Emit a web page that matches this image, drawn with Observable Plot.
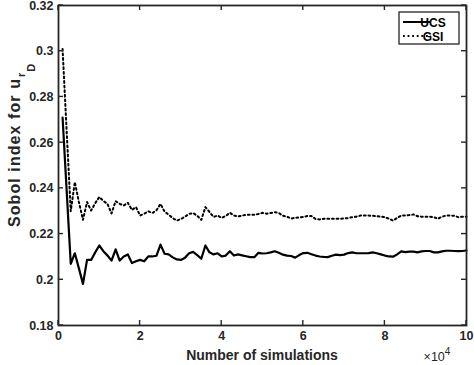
<!DOCTYPE html>
<html>
<head>
<meta charset="utf-8">
<script src="https://cdn.jsdelivr.net/npm/d3@7"></script>
<script src="https://cdn.jsdelivr.net/npm/@observablehq/plot@0.6"></script>
<style>
  html, body { margin: 0; padding: 0; background: #fff; }
  #chart { position: relative; width: 474px; height: 365px; overflow: hidden; }
  svg { font-family: "Liberation Sans", Arial, sans-serif; }
</style>
</head>
<body>
<div id="chart"></div>
<script>
// Number of simulations (in units of 10^4)
const simulations = [
  0.1,0.2,0.3,0.4,0.5,0.6,0.7,0.8,0.9,1.0,
  1.1,1.2,1.3,1.4,1.5,1.6,1.7,1.8,1.9,2.0,
  2.1,2.2,2.3,2.4,2.5,2.6,2.7,2.8,2.9,3.0,
  3.1,3.2,3.3,3.4,3.5,3.6,3.7,3.8,3.9,4.0,
  4.1,4.2,4.3,4.4,4.5,4.6,4.7,4.8,4.9,5.0,
  5.1,5.2,5.3,5.4,5.5,5.6,5.7,5.8,5.9,6.0,
  6.1,6.2,6.3,6.4,6.5,6.6,6.7,6.8,6.9,7.0,
  7.1,7.2,7.3,7.4,7.5,7.6,7.7,7.8,7.9,8.0,
  8.1,8.2,8.3,8.4,8.5,8.6,8.7,8.8,8.9,9.0,
  9.1,9.2,9.3,9.4,9.5,9.6,9.7,9.8,9.9,10.0
];
const ucs = [
  0.271,0.239,0.207,0.2116,0.205,0.1982,0.2087,0.2087,0.212,0.215,
  0.2125,0.2106,0.2084,0.2133,0.2084,0.2102,0.2111,0.2073,0.2081,0.2087,
  0.2081,0.2102,0.2102,0.2105,0.2154,0.2114,0.2111,0.2098,0.2089,0.2087,
  0.2096,0.2116,0.2122,0.2108,0.2092,0.215,0.212,0.2111,0.2116,0.2102,
  0.2106,0.2125,0.2106,0.2111,0.2107,0.2103,0.2099,0.2099,0.2118,0.2115,
  0.2116,0.212,0.2125,0.2118,0.211,0.2106,0.2104,0.2097,0.2108,0.2117,
  0.2118,0.2112,0.2106,0.2102,0.21,0.2099,0.2105,0.211,0.2108,0.211,
  0.2117,0.212,0.2116,0.2116,0.2116,0.2117,0.212,0.2116,0.2111,0.2106,
  0.2102,0.2101,0.2111,0.2124,0.2121,0.2123,0.2123,0.212,0.2124,0.2126,
  0.2126,0.212,0.212,0.2124,0.2127,0.2127,0.2126,0.2125,0.2126,0.2128
];
const gsi = [
  0.301,0.265,0.23,0.2427,0.234,0.2262,0.234,0.2303,0.2335,0.2362,
  0.2345,0.2332,0.229,0.2344,0.2332,0.2325,0.2337,0.2306,0.2318,0.2281,
  0.2289,0.23,0.2292,0.2304,0.2332,0.2298,0.2285,0.227,0.2259,0.2266,
  0.2276,0.2288,0.2292,0.228,0.2262,0.2318,0.2297,0.2275,0.2281,0.2271,
  0.2279,0.2293,0.2281,0.2277,0.2281,0.2284,0.2284,0.2284,0.2288,0.2293,
  0.2289,0.2292,0.2296,0.2292,0.228,0.2276,0.2268,0.2271,0.2273,0.2275,
  0.2279,0.2279,0.2266,0.2264,0.2267,0.2267,0.2267,0.2267,0.2267,0.2268,
  0.227,0.2274,0.2276,0.2281,0.2281,0.2281,0.228,0.2278,0.2276,0.2274,
  0.2267,0.2259,0.2271,0.2281,0.2281,0.2283,0.2286,0.2278,0.2276,0.2276,
  0.2276,0.2274,0.2267,0.2276,0.2281,0.2281,0.228,0.2274,0.2276,0.2276
];
const xTicks = [0, 2, 4, 6, 8, 10];
const yTicks = [0.18, 0.2, 0.22, 0.24, 0.26, 0.28, 0.3, 0.32];
const seriesNames = ["UCS", "GSI"];

const ucsData = simulations.map((s, i) => ({s, v: ucs[i]}));
const gsiData = simulations.map((s, i) => ({s, v: gsi[i]}));

const W = 474, H = 365;
const mL = 58, mR = 8, mT = 5, mB = 40;
const xDomain = [0, 10], yDomain = [0.18, 0.32];
const tickLen = 5;
const axisColor = "#262626";
const fmtY = d => String(+d.toFixed(2));
const dotted = "1.8,2.8";

const plot = Plot.plot({
  width: W,
  height: H,
  marginLeft: mL,
  marginRight: mR,
  marginTop: mT,
  marginBottom: mB,
  style: {fontFamily: "'Liberation Sans', Arial, sans-serif", background: "#fff", overflow: "visible"},
  x: {domain: xDomain},
  y: {domain: yDomain},
  marks: [
    Plot.line(gsiData, {x: "s", y: "v", stroke: "#000", strokeWidth: 2, strokeDasharray: dotted}),
    Plot.line(ucsData, {x: "s", y: "v", stroke: "#000", strokeWidth: 2.2}),
    // tick labels
    Plot.axisX({ticks: xTicks, anchor: "bottom", tickSize: 0, tickPadding: 6, fontSize: 12.5, fontWeight: "bold", fill: axisColor, label: null}),
    Plot.axisY({ticks: yTicks, anchor: "left", tickSize: 0, tickPadding: 5, tickFormat: fmtY, fontSize: 12.5, fontWeight: "bold", fill: axisColor, label: null}),
    Plot.frame({stroke: axisColor, strokeWidth: 1.8})
  ]
});

document.getElementById("chart").appendChild(plot);

const svg = d3.select(plot);
const font = "'Liberation Sans', Arial, sans-serif";
const sx = plot.scale("x"), sy = plot.scale("y");
const x0 = sx.apply(xDomain[0]), x1 = sx.apply(xDomain[1]);
const y0 = sy.apply(yDomain[0]), y1 = sy.apply(yDomain[1]);

// inward ticks on all four sides (MATLAB box style), positioned by Plot's scales
const tg = svg.append("g").attr("stroke", axisColor).attr("stroke-width", 1.4);
xTicks.forEach(t => {
  const px = sx.apply(t);
  tg.append("line").attr("x1", px).attr("x2", px).attr("y1", y0).attr("y2", y0 - tickLen);
  tg.append("line").attr("x1", px).attr("x2", px).attr("y1", y1).attr("y2", y1 + tickLen);
});
yTicks.forEach(t => {
  const py = sy.apply(t);
  tg.append("line").attr("x1", x0).attr("x2", x0 + tickLen).attr("y1", py).attr("y2", py);
  tg.append("line").attr("x1", x1).attr("x2", x1 - tickLen).attr("y1", py).attr("y2", py);
});

// x-axis title
svg.append("text")
  .attr("x", 262).attr("y", 360)
  .attr("text-anchor", "middle")
  .attr("font-family", font).attr("font-size", 14).attr("font-weight", "bold")
  .attr("fill", axisColor)
  .text("Number of simulations");

// x10^4 exponent
const ex = svg.append("text")
  .attr("x", 437).attr("y", 361)
  .attr("font-family", font).attr("font-size", 12.5)
  .attr("fill", axisColor);
ex.append("tspan").text("\u00d710");
ex.append("tspan").attr("dy", -6).attr("font-size", 10).text("4");

// y-axis title
const yl = svg.append("text")
  .attr("transform", "translate(19.5,227) rotate(-90)")
  .attr("text-anchor", "start")
  .attr("font-family", font).attr("font-size", 16).attr("font-weight", "bold")
  .attr("fill", axisColor);
yl.append("tspan").attr("textLength", 148).attr("lengthAdjust", "spacing").text("Sobol index for u");
yl.append("tspan").attr("dx", 1).attr("dy", 5).attr("font-size", 11).text("r");
yl.append("tspan").attr("dx", 1).attr("dy", 10).attr("font-size", 11).text("D");

// legend
const lg = svg.append("g");
lg.append("rect").attr("x", 399).attr("y", 12).attr("width", 60).attr("height", 32)
  .attr("fill", "#fff").attr("stroke", axisColor).attr("stroke-width", 1.3);
const legendRows = [
  {name: seriesNames[0], y: 22, dash: null},
  {name: seriesNames[1], y: 36, dash: dotted}
];
legendRows.forEach(r => {
  lg.append("line").attr("x1", 403).attr("x2", 431).attr("y1", r.y).attr("y2", r.y)
    .attr("stroke", "#000").attr("stroke-width", 2)
    .attr("stroke-dasharray", r.dash);
  lg.append("text").attr("x", 433).attr("y", r.y + 4.5)
    .attr("font-family", font).attr("font-size", 12).attr("font-weight", "bold")
    .attr("fill", "#000").text(r.name);
});
</script>
</body>
</html>
